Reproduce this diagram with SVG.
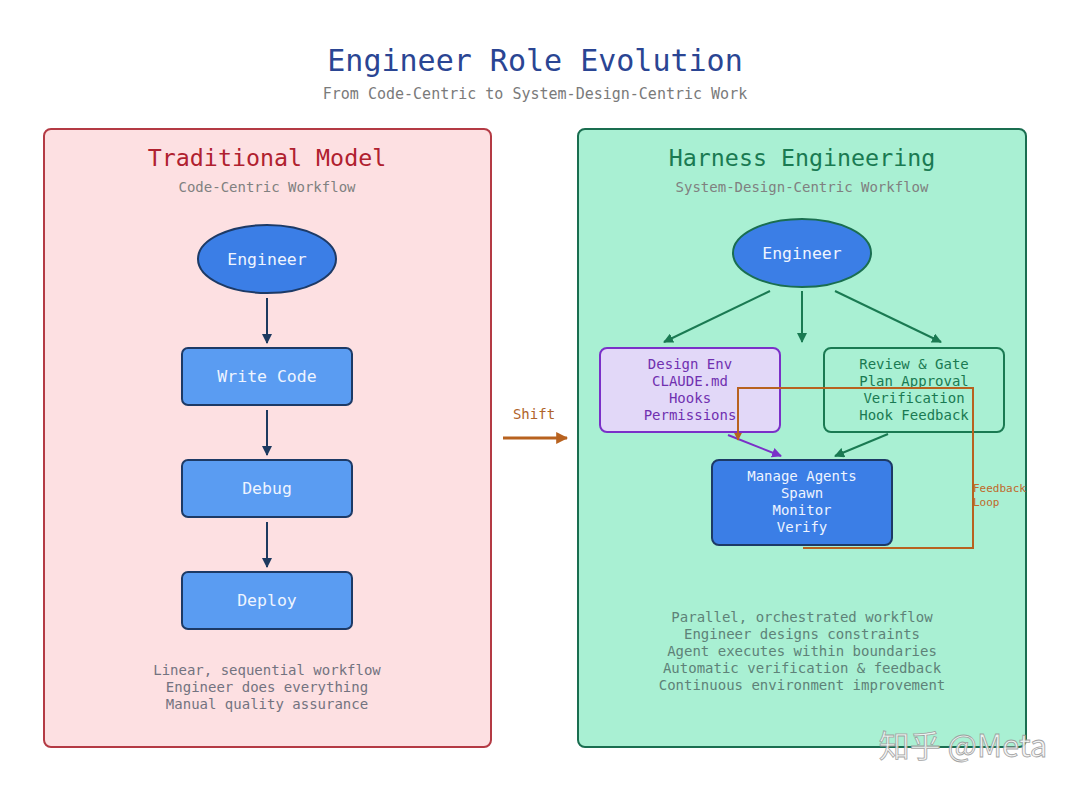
<svg xmlns="http://www.w3.org/2000/svg" width="1080" height="791" viewBox="0 0 1080 791">
<defs>
<style>
text{font-family:"DejaVu Sans Mono","Liberation Mono",monospace;text-anchor:middle}
.title{font-size:30px;fill:#2a4593}
.sub{font-size:15px;fill:#7a7a7a}
.ptl{font-size:23.3px}
.psub{font-size:14px;fill:#808080}
.nt{font-size:16.5px;fill:#eef4ff}
.sm{font-size:14px}
.note{font-size:14px}
.blue{fill:#3b7ee6;stroke:#1d3a66;stroke-width:2}
.lblue{fill:#5a9cf2;stroke:#1d3a66;stroke-width:2}
</style>
<marker id="aNavy" viewBox="0 0 10 10" refX="9" refY="5" markerWidth="5" markerHeight="5" orient="auto"><path d="M0,0L10,5L0,10z" fill="#1d3a5f"/></marker>
<marker id="aGreen" viewBox="0 0 10 10" refX="9" refY="5" markerWidth="5" markerHeight="5" orient="auto"><path d="M0,0L10,5L0,10z" fill="#1a7a52"/></marker>
<marker id="aPurple" viewBox="0 0 10 10" refX="9" refY="5" markerWidth="5" markerHeight="5" orient="auto"><path d="M0,0L10,5L0,10z" fill="#7a30c8"/></marker>
<marker id="aOrange" viewBox="0 0 10 10" refX="9" refY="5" markerWidth="4" markerHeight="4" orient="auto"><path d="M0,0L10,5L0,10z" fill="#b8621f"/></marker>
</defs>
<rect width="1080" height="791" fill="#ffffff"/>
<g id="header">
<text class="title" x="535" y="71">Engineer Role Evolution</text>
<text class="sub" x="535" y="99">From Code-Centric to System-Design-Centric Work</text>
</g>
<g id="panel-traditional">
<rect x="44" y="129" width="447" height="618" rx="7" fill="#fde0e2" stroke="#b43a44" stroke-width="2"/>
<text class="ptl" x="267" y="166" fill="#b0212f">Traditional Model</text>
<text class="psub" x="267" y="192">Code-Centric Workflow</text>
<text class="note" x="267" y="675" fill="#737380">Linear, sequential workflow</text>
<text class="note" x="267" y="692" fill="#737380">Engineer does everything</text>
<text class="note" x="267" y="709" fill="#737380">Manual quality assurance</text>
</g>
<g id="panel-harness">
<rect x="578" y="129" width="448" height="618" rx="7" fill="#a9f0d3" stroke="#1a6e50" stroke-width="2"/>
<text class="ptl" x="802" y="166" fill="#1a7a52">Harness Engineering</text>
<text class="psub" x="802" y="192">System-Design-Centric Workflow</text>
<text class="note" x="802" y="622" fill="#5e8278">Parallel, orchestrated workflow</text>
<text class="note" x="802" y="639" fill="#5e8278">Engineer designs constraints</text>
<text class="note" x="802" y="656" fill="#5e8278">Agent executes within boundaries</text>
<text class="note" x="802" y="673" fill="#5e8278">Automatic verification &amp; feedback</text>
<text class="note" x="802" y="690" fill="#5e8278">Continuous environment improvement</text>
</g>
<g id="t-engineer">
<ellipse cx="267" cy="259" rx="69" ry="34" class="blue"/>
<text class="nt" x="267" y="265">Engineer</text>
</g>
<g id="t-write">
<rect x="182" y="348" width="170" height="57" rx="6" class="lblue"/>
<text class="nt" x="267" y="382">Write Code</text>
</g>
<g id="t-debug">
<rect x="182" y="460" width="170" height="57" rx="6" class="lblue"/>
<text class="nt" x="267" y="494">Debug</text>
</g>
<g id="t-deploy">
<rect x="182" y="572" width="170" height="57" rx="6" class="lblue"/>
<text class="nt" x="267" y="606">Deploy</text>
</g>
<g id="h-engineer">
<ellipse cx="802" cy="253" rx="69" ry="34" fill="#3b7ee6" stroke="#1a6e50" stroke-width="2"/>
<text class="nt" x="802" y="259">Engineer</text>
</g>
<g id="h-design">
<rect x="600" y="348" width="180" height="84" rx="7" fill="#e2d8f8" stroke="#7a30c8" stroke-width="2"/>
<text class="sm" x="690" y="369" fill="#7030b0">Design Env</text>
<text class="sm" x="690" y="386" fill="#7030b0">CLAUDE.md</text>
<text class="sm" x="690" y="403" fill="#7030b0">Hooks</text>
<text class="sm" x="690" y="420" fill="#7030b0">Permissions</text>
</g>
<g id="h-review">
<rect x="824" y="348" width="180" height="84" rx="7" fill="none" stroke="#1a7a52" stroke-width="2"/>
<text class="sm" x="914" y="369" fill="#1a7a52">Review &amp; Gate</text>
<text class="sm" x="914" y="386" fill="#1a7a52">Plan Approval</text>
<text class="sm" x="914" y="403" fill="#1a7a52">Verification</text>
<text class="sm" x="914" y="420" fill="#1a7a52">Hook Feedback</text>
</g>
<g id="h-manage">
<rect x="712" y="460" width="180" height="85" rx="7" fill="#3b7ee6" stroke="#1d3a66" stroke-width="2"/>
<text class="sm" x="802" y="481" fill="#eef4ff">Manage Agents</text>
<text class="sm" x="802" y="498" fill="#eef4ff">Spawn</text>
<text class="sm" x="802" y="515" fill="#eef4ff">Monitor</text>
<text class="sm" x="802" y="532" fill="#eef4ff">Verify</text>
</g>
<g id="connectors" fill="none">
<line x1="267" y1="298" x2="267" y2="343" stroke="#1d3a5f" stroke-width="2" marker-end="url(#aNavy)"/>
<line x1="267" y1="410" x2="267" y2="455" stroke="#1d3a5f" stroke-width="2" marker-end="url(#aNavy)"/>
<line x1="267" y1="522" x2="267" y2="567" stroke="#1d3a5f" stroke-width="2" marker-end="url(#aNavy)"/>
<line x1="503" y1="438" x2="567" y2="438" stroke="#b8621f" stroke-width="3" marker-end="url(#aOrange)"/>
<line x1="770" y1="291" x2="664" y2="342" stroke="#1a7a52" stroke-width="2" marker-end="url(#aGreen)"/>
<line x1="802" y1="291" x2="802" y2="342" stroke="#1a7a52" stroke-width="2" marker-end="url(#aGreen)"/>
<line x1="835" y1="291" x2="941" y2="342" stroke="#1a7a52" stroke-width="2" marker-end="url(#aGreen)"/>
<line x1="728" y1="435" x2="781" y2="456" stroke="#7a30c8" stroke-width="2" marker-end="url(#aPurple)"/>
<line x1="888" y1="434" x2="835" y2="456" stroke="#1a7a52" stroke-width="2" marker-end="url(#aGreen)"/>
<path d="M803,548H973V388H738V440" stroke="#b8621f" stroke-width="2" marker-end="url(#aOrange)"/>
<text x="534" y="419" style="font-size:14px" fill="#b0642a">Shift</text>
<text x="973" y="492" style="font-size:11px;text-anchor:start" fill="#c0682a">Feedback</text>
<text x="973" y="506" style="font-size:11px;text-anchor:start" fill="#c0682a">Loop</text>
</g>
<g id="watermark">
<text x="963" y="757" style="font-family:'Noto Sans CJK SC','DejaVu Sans',sans-serif;font-size:31px" fill="#f4f4f4" stroke="#9a9a9a" stroke-width="0.8" opacity="0.9">知乎 @Meta</text>
</g>
</svg>
